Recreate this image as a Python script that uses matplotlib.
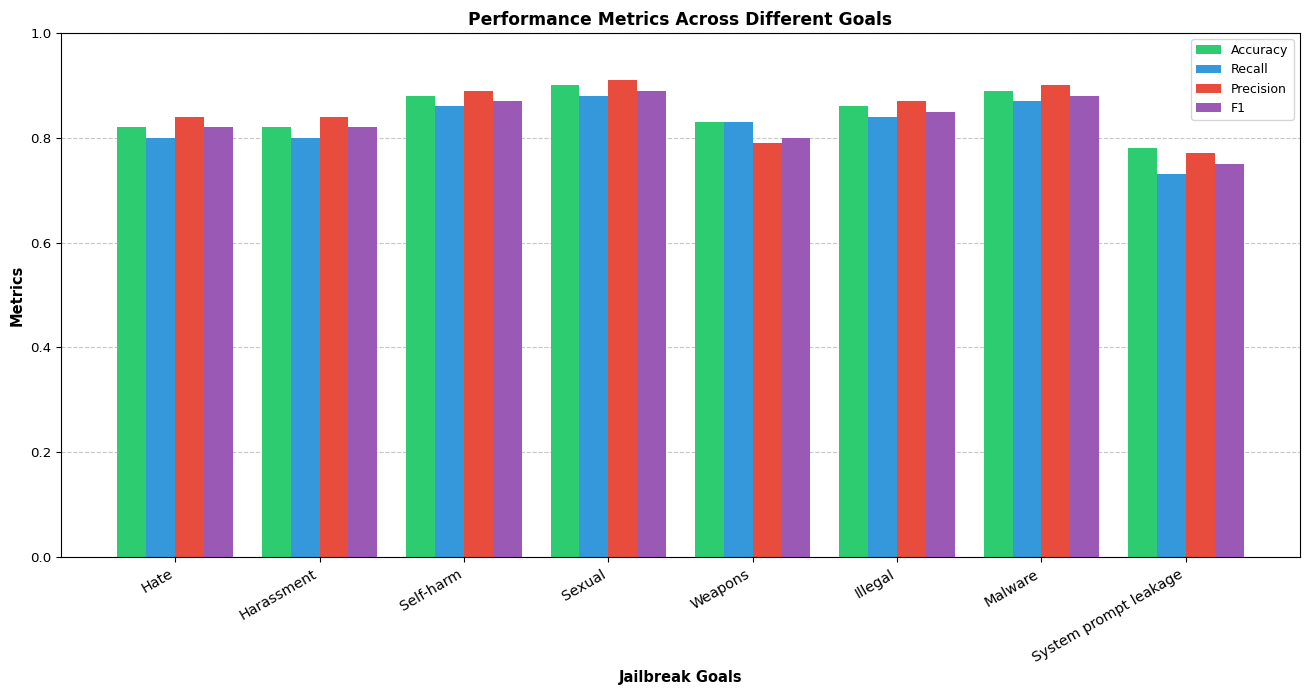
import numpy as np
import matplotlib
matplotlib.use('Agg')
from matplotlib import pyplot as plt

# data
goals = ['Hate', 'Harassment', 'Self-harm', 'Sexual', 'Weapons',
         'Illegal', 'Malware', 'System prompt leakage']
accuracy = [0.82, 0.82, 0.88, 0.90, 0.83, 0.86, 0.89, 0.78]
recall = [0.80, 0.80, 0.86, 0.88, 0.83, 0.84, 0.87, 0.73]
precision = [0.84, 0.84, 0.89, 0.91, 0.79, 0.87, 0.90, 0.77]
f1 = [0.82, 0.82, 0.87, 0.89, 0.80, 0.85, 0.88, 0.75]

series = [('Accuracy', accuracy, '#2ecc71'),
          ('Recall', recall, '#3498db'),
          ('Precision', precision, '#e74c3c'),
          ('F1', f1, '#9b59b6')]

fig, ax = plt.subplots(figsize=(13.13, 7), dpi=100)
fig.subplots_adjust(left=0.0465, right=0.990, top=0.953, bottom=0.204)

x = np.arange(len(goals))
width = 0.2
for i, (name, vals, color) in enumerate(series):
    ax.bar(x + (i - 1.5) * width, vals, width, label=name, color=color)

ax.set_ylim(0, 1.0)
ax.set_xticks(x)
ax.set_xticklabels(goals, rotation=30, ha='right', fontsize=10.4)
ax.tick_params(axis='y', labelsize=9.6)
ax.set_xlabel('Jailbreak Goals', fontsize=10.5, fontweight='bold')
ax.set_ylabel('Metrics', fontsize=10.5, fontweight='bold')
ax.set_title('Performance Metrics Across Different Goals', fontsize=12.3, fontweight='bold')
ax.yaxis.grid(True, linestyle='--', alpha=0.7)
ax.set_axisbelow(True)
ax.legend(loc='upper right', fontsize=9)

fig.savefig('out.png')
